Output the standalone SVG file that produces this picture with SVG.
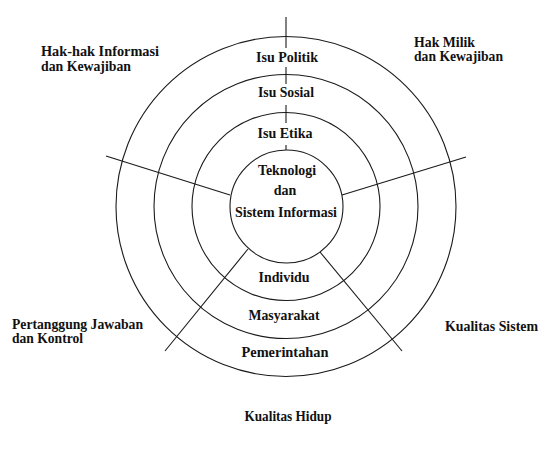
<svg xmlns="http://www.w3.org/2000/svg" width="558" height="449" viewBox="0 0 558 449">
<style>
.ring{fill:none;stroke:#1a1a1a;stroke-width:1.1}
.ln{stroke:#1a1a1a;stroke-width:1.1;fill:none}
.t{font-family:'Liberation Serif','DejaVu Serif','Times New Roman',serif;font-weight:bold;font-size:14px;fill:#111}
.c{text-anchor:middle}
</style>
<rect width="558" height="449" fill="#fff"/>
<g id="connectors">
<line class="ln" x1="286" y1="17" x2="286" y2="48"/>
<line class="ln" x1="286" y1="67" x2="286" y2="84"/>
<line class="ln" x1="286" y1="105" x2="286" y2="123"/>
<line class="ln" x1="286" y1="145" x2="286" y2="150"/>
<line class="ln" x1="106" y1="156" x2="230" y2="195"/>
<line class="ln" x1="342" y1="195" x2="466" y2="157"/>
<line class="ln" x1="248" y1="249" x2="165" y2="351"/>
<line class="ln" x1="320" y1="252" x2="402" y2="351"/>
</g>
<g class="t" font-family="Liberation Serif, DejaVu Serif, serif" font-weight="bold" font-size="14">
<g id="ring-pemerintahan">
<circle class="ring" cx="286" cy="206.5" r="170"/>
<text class="c" x="285" y="357" textLength="87" lengthAdjust="spacingAndGlyphs">Pemerintahan</text>
<text class="c" x="287" y="62" textLength="62" lengthAdjust="spacingAndGlyphs">Isu Politik</text>
</g>
<g id="ring-masyarakat">
<circle class="ring" cx="286" cy="206.5" r="132"/>
<text class="c" x="284" y="320" textLength="71" lengthAdjust="spacingAndGlyphs">Masyarakat</text>
<text class="c" x="286" y="97" textLength="56" lengthAdjust="spacingAndGlyphs">Isu Sosial</text>
</g>
<g id="ring-individu">
<circle class="ring" cx="286" cy="206.5" r="94"/>
<text class="c" x="284" y="282" textLength="51" lengthAdjust="spacingAndGlyphs">Individu</text>
<text class="c" x="285" y="138" textLength="55" lengthAdjust="spacingAndGlyphs">Isu Etika</text>
</g>
<g id="core">
<circle class="ring" cx="286.5" cy="206.5" r="56.5"/>
<text class="c" x="287" y="175" textLength="58" lengthAdjust="spacingAndGlyphs">Teknologi</text>
<text class="c" x="285" y="195">dan</text>
<text class="c" x="286" y="217" textLength="102" lengthAdjust="spacingAndGlyphs">Sistem Informasi</text>
</g>
<g id="label-hak-hak">
<text x="41" y="56" textLength="118" lengthAdjust="spacingAndGlyphs">Hak-hak Informasi</text>
<text x="41" y="71" textLength="90" lengthAdjust="spacingAndGlyphs">dan Kewajiban</text>
</g>
<g id="label-hak-milik">
<text x="414" y="47" textLength="61" lengthAdjust="spacingAndGlyphs">Hak Milik</text>
<text x="414" y="61" textLength="89" lengthAdjust="spacingAndGlyphs">dan Kewajiban</text>
</g>
<g id="label-pertanggung">
<text x="12" y="329" textLength="131" lengthAdjust="spacingAndGlyphs">Pertanggung Jawaban</text>
<text x="12" y="343" textLength="71" lengthAdjust="spacingAndGlyphs">dan Kontrol</text>
</g>
<g id="label-kualitas-sistem">
<text x="445" y="331" textLength="93" lengthAdjust="spacingAndGlyphs">Kualitas Sistem</text>
</g>
<g id="label-kualitas-hidup">
<text class="c" x="288" y="421" textLength="87" lengthAdjust="spacingAndGlyphs">Kualitas Hidup</text>
</g>
</g>
</svg>
